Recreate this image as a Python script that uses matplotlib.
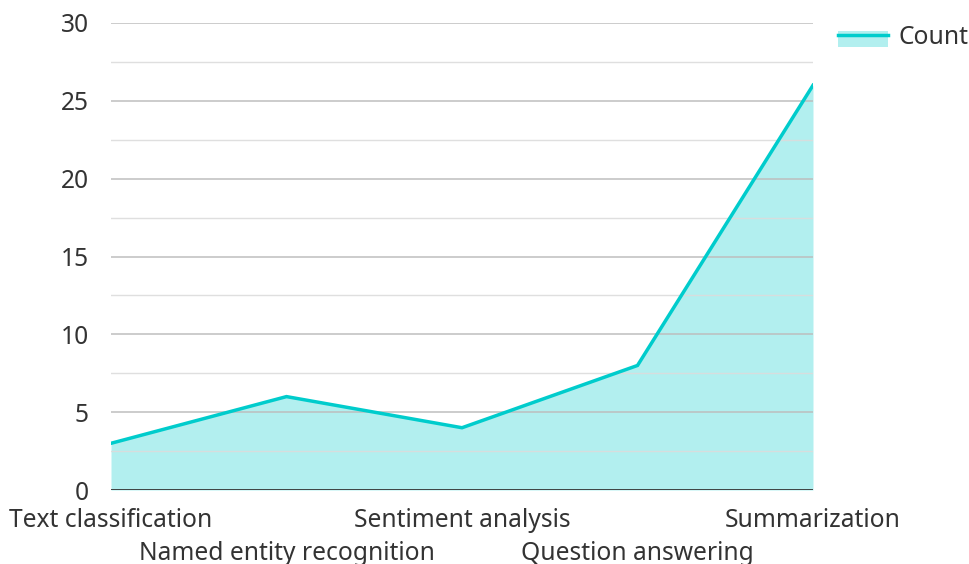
import matplotlib
matplotlib.use("Agg")
import matplotlib.pyplot as plt
from matplotlib.patches import Rectangle
from matplotlib.lines import Line2D
from matplotlib.legend_handler import HandlerBase

categories = ["Text classification", "Named entity recognition", "Sentiment analysis",
              "Question answering", "Summarization"]
counts = [3, 6, 4, 8, 26]
y_ticks = [0, 5, 10, 15, 20, 25, 30]
series_name = "Count"

LINE = "#00CCCC"
TEXT = "#333333"
FS = 17.7

plt.rcParams['font.family'] = ['Noto Sans', 'DejaVu Sans']

fig = plt.figure(figsize=(9.7, 5.64), dpi=100)
ax = fig.add_axes([111/970, 1-490/564, (813-111)/970, (490-23)/564])

x = list(range(len(categories)))
ax.fill_between(x, counts, 0, color=LINE, alpha=0.3, linewidth=0, zorder=3)
ax.plot(x, counts, color=LINE, linewidth=2.5, zorder=4, solid_joinstyle='miter')

ax.set_xlim(0, len(categories)-1)
ax.set_ylim(0, 30)

# gridlines
for v in [2.5, 7.5, 12.5, 17.5, 22.5, 27.5]:
    ax.axhline(v, color="#dcdcdc", linewidth=1, zorder=3.5, alpha=0.9)
for v in y_ticks[1:]:
    ax.axhline(v, color="#bdbdbd", linewidth=1.2, zorder=3.5, alpha=0.9)
ax.axhline(0, color=TEXT, linewidth=2, zorder=5)

for s in ax.spines.values():
    s.set_visible(False)

ax.set_yticks(y_ticks)
ax.set_yticklabels([str(v) for v in y_ticks], fontsize=FS, color=TEXT)
ax.tick_params(axis='y', length=0, pad=16)
ax.set_xticks(x)
ax.set_xticklabels([])
ax.tick_params(axis='x', length=0)
for i, c in enumerate(categories):
    ax.annotate(c, xy=(i, 0), xycoords=('data', 'axes fraction'),
                xytext=(0, -22 if i % 2 == 0 else -45.5), textcoords='offset points',
                ha='center', va='center', fontsize=FS, color=TEXT, annotation_clip=False)

class AreaHandler(HandlerBase):
    def create_artists(self, legend, orig_handle, xdescent, ydescent, width, height, fontsize, trans):
        r = Rectangle((-xdescent, -ydescent - 0.2*height), width, height*0.95,
                      facecolor=LINE, alpha=0.3, linewidth=0, transform=trans)
        top = -ydescent + 0.55*height
        l = Line2D([-xdescent, -xdescent+width], [top, top], color=LINE, linewidth=2.5, transform=trans)
        return [r, l]

handle = Line2D([], [], color=LINE)
leg = fig.legend([handle], [series_name], handler_map={Line2D: AreaHandler()},
                 loc='upper left', bbox_to_anchor=(838/970, 1-25/564), frameon=False,
                 fontsize=FS, handlelength=2.04, handletextpad=0.41, labelcolor=TEXT,
                 borderaxespad=0, borderpad=0)

fig.savefig("out.png", dpi=100)
